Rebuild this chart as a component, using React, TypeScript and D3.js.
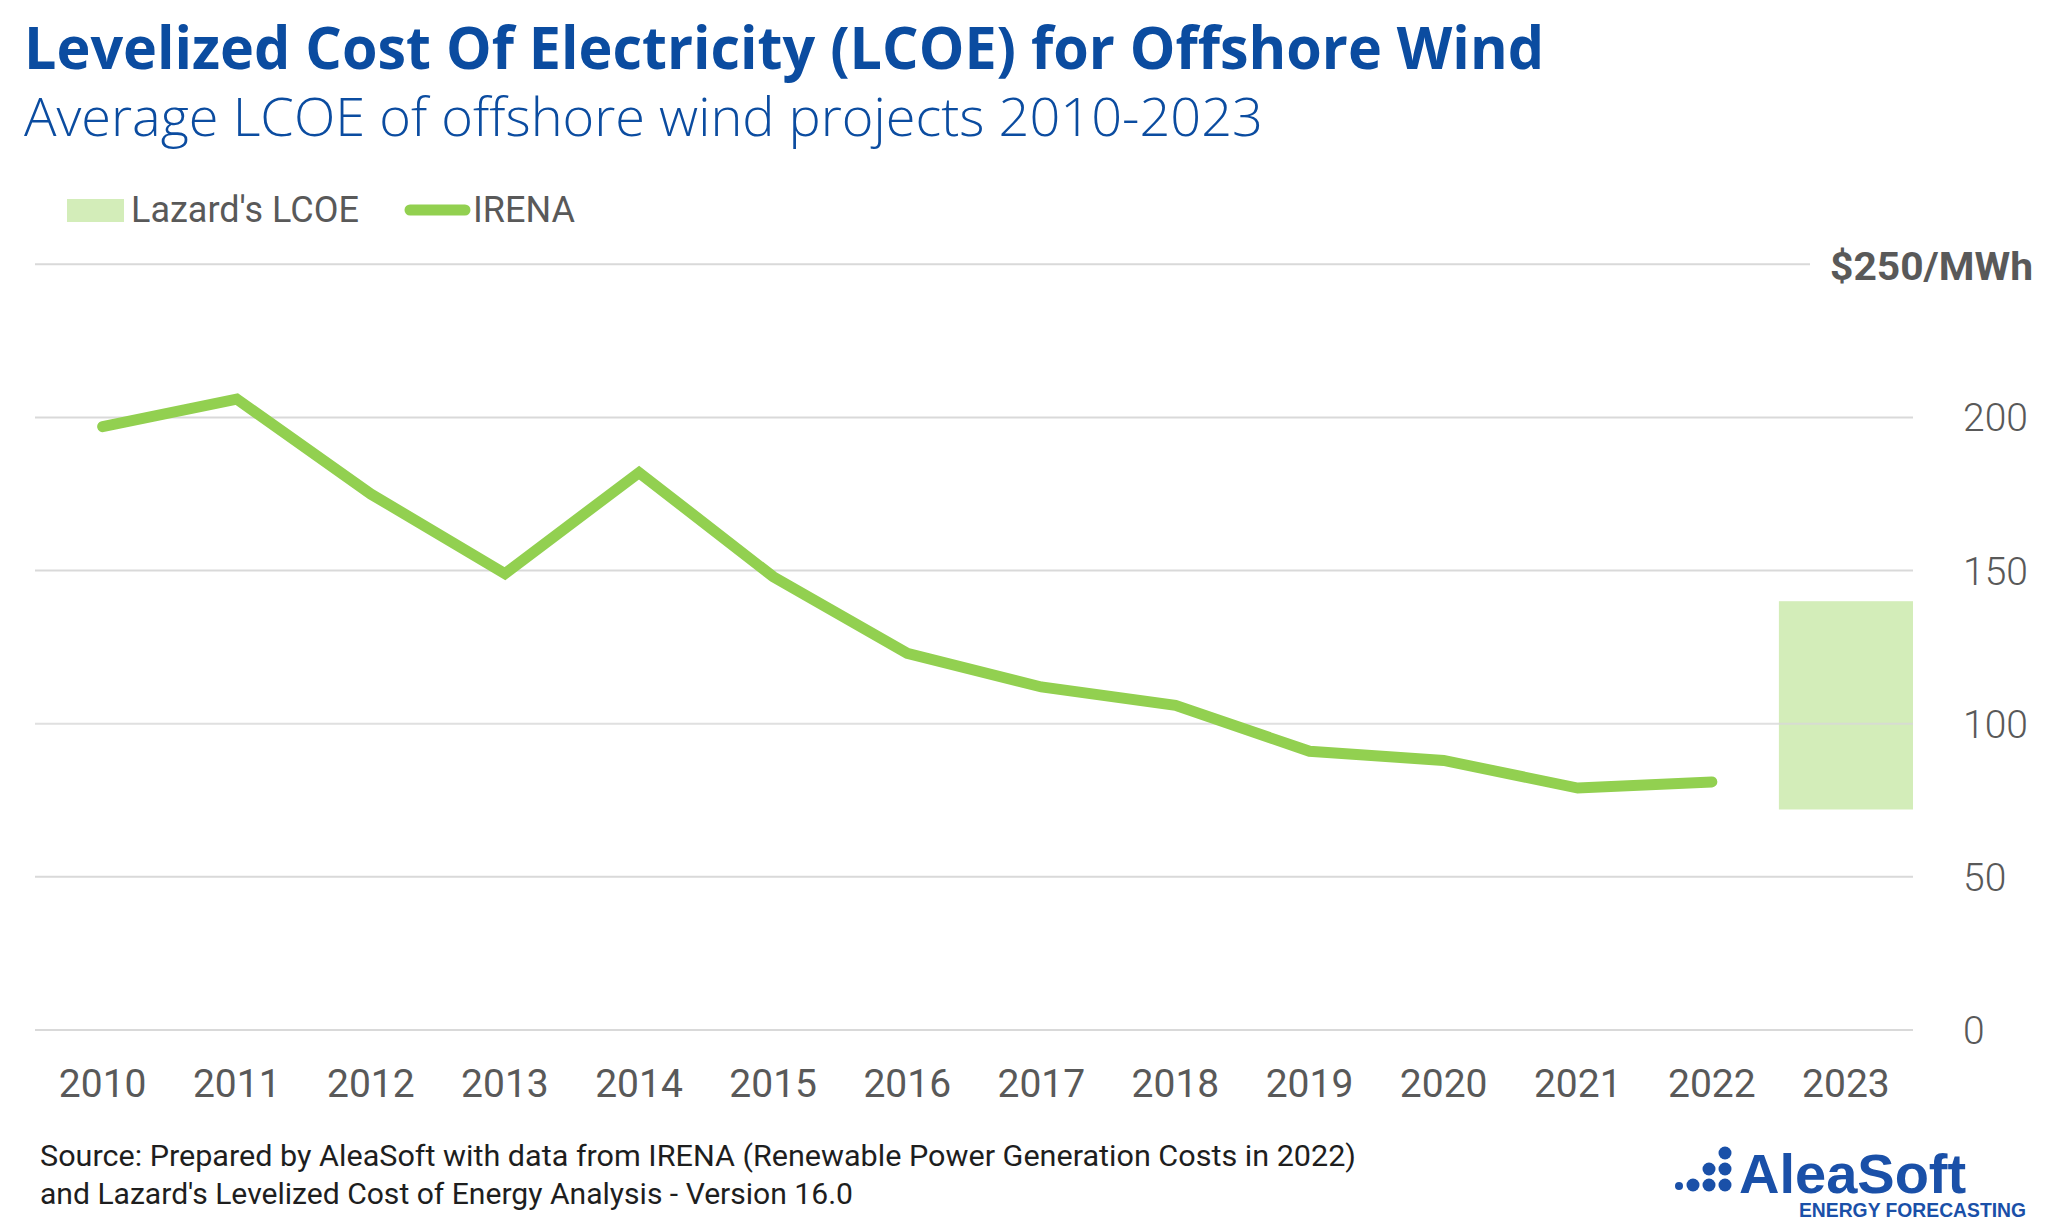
import React from "react";
import * as d3 from "d3";

const years = ["2010","2011","2012","2013","2014","2015","2016","2017","2018","2019","2020","2021","2022","2023"];
const irenaYears = ["2010","2011","2012","2013","2014","2015","2016","2017","2018","2019","2020","2021","2022"];
const irenaValues = [197, 206, 175, 149, 182, 148, 123, 112, 106, 91, 88, 79, 81];
const lazardYears = ["2023"];
const lazardLow = [72];
const lazardHigh = [140];
const yTicks = [0, 50, 100, 150, 200];
const yMax = 250;
const yMaxLabel = "$250/MWh";

const title = "Levelized Cost Of Electricity (LCOE) for Offshore Wind";
const subtitle = "Average LCOE of offshore wind projects 2010-2023";
const legendLabels = ["Lazard's LCOE", "IRENA"];
const sourceLines = [
  "Source: Prepared by AleaSoft with data from IRENA (Renewable Power Generation Costs in 2022)",
  "and Lazard's Levelized Cost of Energy Analysis - Version 16.0",
];

const W = 2048;
const H = 1231;
const BLUE = "#0b4ca0";
const LOGO_BLUE = "#1a50a8";
const GREEN = "#92d050";
const LIGHT_GREEN = "#d3edb9";
const GREY = "#595959";
const GRID = "#d9d9d9";
const SANS = "Roboto, 'Open Sans', sans-serif";

export default function App() {
  const x = d3.scaleBand<string>().domain(years).range([35.6, 1913]).padding(0);
  const y = d3.scaleLinear().domain([0, yMax]).range([1030, 264.3]);
  const bw = x.bandwidth();

  const pts = irenaYears.map((yr, i) => ({ year: yr, value: irenaValues[i] }));
  const line = d3
    .line<{ year: string; value: number }>()
    .x((d) => (x(d.year) as number) + bw / 2)
    .y((d) => y(d.value));

  const logoDots = [
    [1725, 1153, 6.5],
    [1709, 1169, 6.5],
    [1725, 1169, 6.5],
    [1693, 1185, 6.5],
    [1709, 1185, 6.5],
    [1725, 1185, 6.5],
    [1679, 1186, 4],
  ];

  return (
    <svg
      width={W}
      height={H}
      viewBox={`0 0 ${W} ${H}`}
      style={{ position: "absolute", left: 0, top: 0, background: "#fff", display: "block" }}
    >
      <rect x={0} y={0} width={W} height={H} fill="#fff" />
      {/* Title */}
      <text
        x={24}
        y={69}
        fontFamily="'Open Sans', sans-serif"
        fontWeight={700}
        fontSize={59}
        fill={BLUE}
        textLength={1520}
        lengthAdjust="spacingAndGlyphs"
      >
        {title}
      </text>
      <text
        x={24}
        y={136}
        fontFamily="'Open Sans', sans-serif"
        fontWeight={300}
        fontSize={53}
        fill={BLUE}
        textLength={1239}
        lengthAdjust="spacingAndGlyphs"
      >
        {subtitle}
      </text>

      {/* Legend */}
      <rect x={67} y={199} width={57} height={23} fill={LIGHT_GREEN} />
      <text x={131} y={222} fontFamily={SANS} fontSize={36} fill={GREY}>
        {legendLabels[0]}
      </text>
      <line x1={410} x2={465} y1={210} y2={210} stroke={GREEN} strokeWidth={11} strokeLinecap="round" />
      <text x={473} y={222} fontFamily={SANS} fontSize={36} fill={GREY}>
        {legendLabels[1]}
      </text>

      {/* Lazard range box */}
      {lazardYears.map((yr, i) => (
        <rect
          key={yr}
          x={x(yr) as number}
          y={y(lazardHigh[i])}
          width={bw}
          height={y(lazardLow[i]) - y(lazardHigh[i])}
          fill={LIGHT_GREEN}
        />
      ))}

      {/* Gridlines */}
      {yTicks.map((t) => (
        <line key={t} x1={35} x2={1913} y1={y(t)} y2={y(t)} stroke={GRID} strokeWidth={2} opacity={t === 100 ? 0.8 : 1} />
      ))}
      <line x1={35} x2={1810} y1={y(yMax)} y2={y(yMax)} stroke={GRID} strokeWidth={2} />

      {/* Y tick labels */}
      {yTicks.map((t) => (
        <text key={t} x={1963} y={y(t) + 14} fontFamily={SANS} fontWeight={300} fontSize={39} fill={GREY}>
          {t}
        </text>
      ))}
      <text
        x={1830}
        y={y(yMax) + 16}
        fontFamily={SANS}
        fontWeight={700}
        fontSize={39}
        fill={GREY}
        textLength={203}
        lengthAdjust="spacingAndGlyphs"
      >
        {yMaxLabel}
      </text>

      {/* IRENA line */}
      <path
        d={line(pts) || ""}
        fill="none"
        stroke={GREEN}
        strokeWidth={11}
        strokeLinecap="round"
        strokeLinejoin="miter"
      />

      {/* X labels */}
      {years.map((yr) => (
        <text
          key={yr}
          x={(x(yr) as number) + bw / 2}
          y={1097}
          textAnchor="middle"
          fontFamily={SANS}
          fontSize={39}
          fill={GREY}
        >
          {yr}
        </text>
      ))}

      {/* Source */}
      <text x={40} y={1166} fontFamily={SANS} fontSize={30} fill="#1e1e1e" textLength={1316} lengthAdjust="spacingAndGlyphs">
        {sourceLines[0]}
      </text>
      <text x={40} y={1204} fontFamily={SANS} fontSize={30} fill="#1e1e1e" textLength={813} lengthAdjust="spacingAndGlyphs">
        {sourceLines[1]}
      </text>

      {/* Logo */}
      {logoDots.map(([cx, cy, r], i) => (
        <circle key={i} cx={cx} cy={cy} r={r} fill={LOGO_BLUE} />
      ))}
      <text x={1739} y={1193} fontFamily="'Liberation Sans', Arial, sans-serif" fontWeight={700} fontSize={56} fill={LOGO_BLUE}>
        AleaSoft
      </text>
      <text
        x={1799}
        y={1217}
        fontFamily="'Liberation Sans', Arial, sans-serif"
        fontWeight={700}
        fontSize={19.4}
        fill={LOGO_BLUE}
        textLength={227}
        lengthAdjust="spacingAndGlyphs"
      >
        ENERGY FORECASTING
      </text>
    </svg>
  );
}
